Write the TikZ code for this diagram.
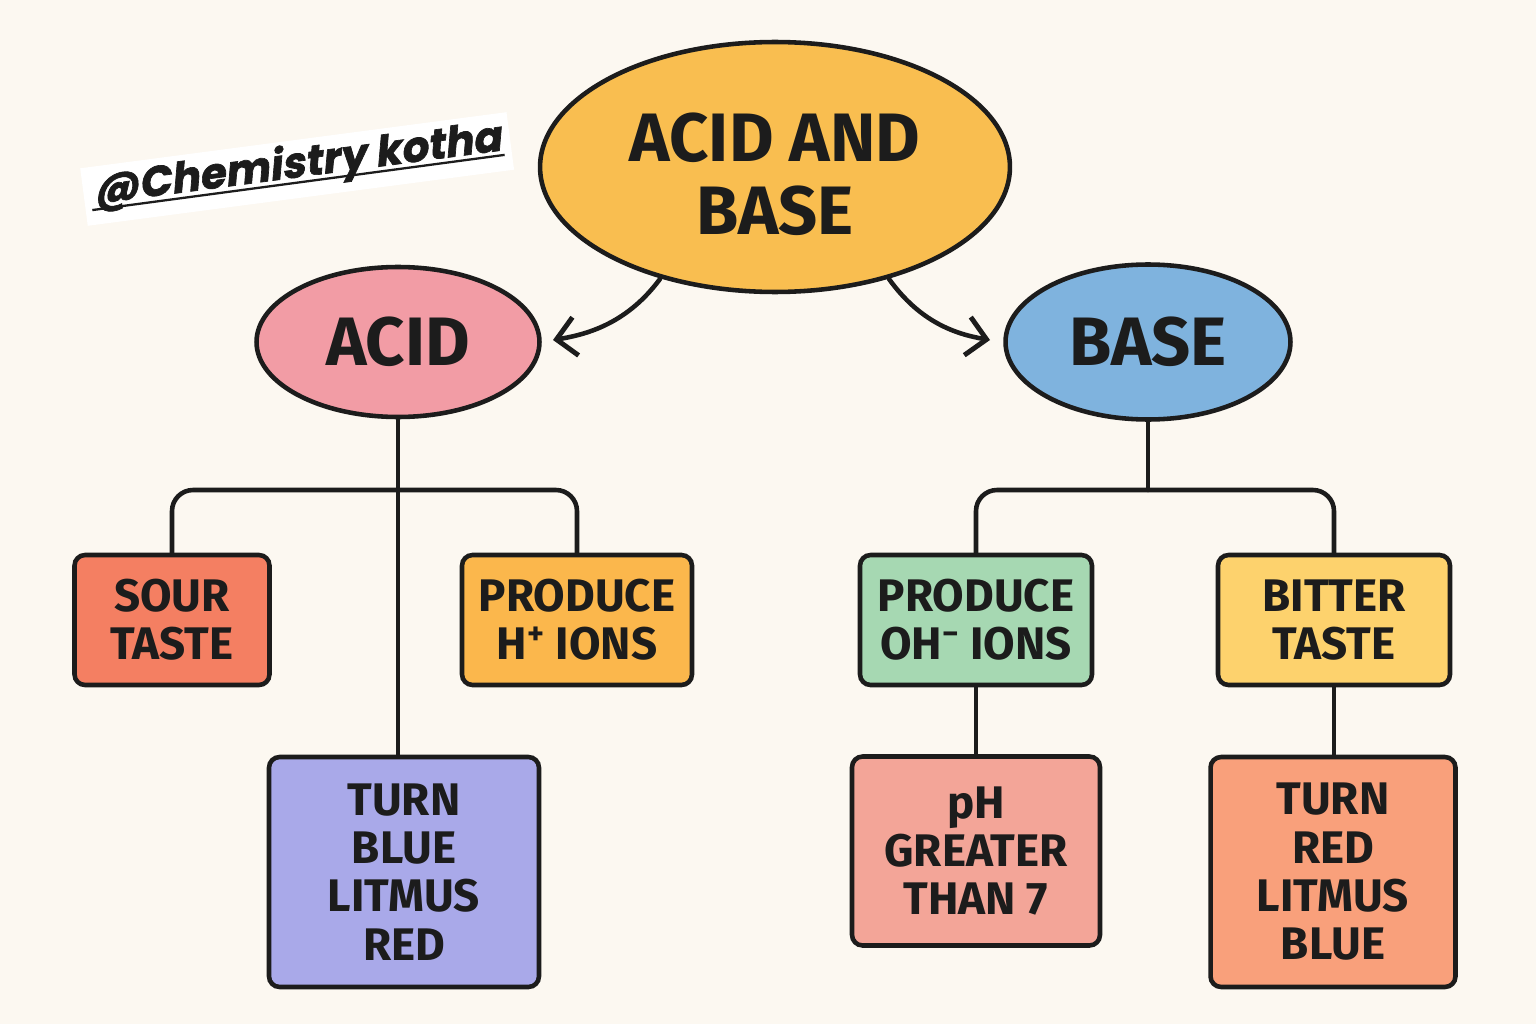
\documentclass[tikz,border=0pt]{standalone}
\usepackage{fontspec}
\setmainfont{Fira Sans}
\newfontfamily\markfont{Poppins}[BoldFeatures={FakeSlant=0.22, FakeBold=1.6}]
\usetikzlibrary{shapes.geometric,arrows.meta}
\definecolor{paper}{HTML}{FCF8F1}
\definecolor{ink}{HTML}{1C1C1C}
\definecolor{topfill}{HTML}{F9BE50}
\definecolor{acidfill}{HTML}{F29CA5}
\definecolor{basefill}{HTML}{7FB3DE}
\definecolor{sourfill}{HTML}{F47F62}
\definecolor{hionfill}{HTML}{FBB74C}
\definecolor{bluefill}{HTML}{A9A9E9}
\definecolor{ohfill}{HTML}{A6D8B2}
\definecolor{bitterfill}{HTML}{FDD26D}
\definecolor{phfill}{HTML}{F3A598}
\definecolor{redfill}{HTML}{F9A07B}

\begin{document}
\begin{tikzpicture}[x=0.02cm, y=-0.02cm,
  every node/.style={align=center, text=ink},
  bubble/.style={ellipse, draw=ink, line width=2.6pt, inner sep=0pt,
    font=\fontsize{39}{41.5}\selectfont\bfseries},
  card/.style={rectangle, rounded corners=6pt, draw=ink, line width=2.6pt, inner sep=0pt,
    font=\fontsize{26}{27.5}\selectfont\bfseries},
  link/.style={draw=ink, line width=2.6pt, line cap=round},
  swing/.style={link, -{Straight Barb[length=11pt, width=22pt, line width=2.8pt]}}]
\fill[paper] (0,0) rectangle (1536,1024);
\useasboundingbox (0,0) rectangle (1536,1024);

% watermark
\fill[white, rotate around={7.5:(297,168)}] (82,140) rectangle (512,198);
\node at (297,166) [rotate=7.5, font=\markfont\fontsize{24}{26}\selectfont\bfseries] (mark) {@Chemistry kotha};
\draw[ink, line width=1.3pt] ([xshift=2pt, yshift=-3pt]mark.base west) -- ([xshift=-2pt, yshift=-3pt]mark.base east);

% ellipses
\node at (775,167) [bubble, fill=topfill, minimum width=9.4cm, minimum height=5cm] (top) {\rule{0pt}{36pt}ACID AND\\BASE};
\node at (398,342) [bubble, fill=acidfill, minimum width=5.66cm, minimum height=3cm] (acid) {ACID};
\node at (1148,342) [bubble, fill=basefill, minimum width=5.7cm, minimum height=3.1cm] (base) {BASE};

% acid side
\node at (172,620) [card, fill=sourfill, minimum width=3.9cm, minimum height=2.6cm] (sour) {SOUR\\TASTE};
\node at (577,620) [card, fill=hionfill, minimum width=4.6cm, minimum height=2.6cm] (hion) {PRODUCE\\H\textsuperscript{+} IONS};
\node at (404,872) [card, fill=bluefill, minimum width=5.4cm, minimum height=4.6cm] (litblue) {TURN\\BLUE\\LITMUS\\RED};

% base side
\node at (976,620) [card, fill=ohfill, minimum width=4.64cm, minimum height=2.6cm] (ohion) {PRODUCE\\OH\textsuperscript{−} IONS};
\node at (1334,620) [card, fill=bitterfill, minimum width=4.64cm, minimum height=2.6cm] (bitter) {BITTER\\TASTE};
\node at (976,851) [card, fill=phfill, minimum width=4.96cm, minimum height=3.78cm] (ph) {pH\\GREATER\\THAN 7};
\node at (1333,872) [card, fill=redfill, minimum width=4.9cm, minimum height=4.6cm] (litred) {TURN\\RED\\LITMUS\\BLUE};

% connectors
\coordinate (abar) at (398,490);
\coordinate (bbar) at (1148,490);
\coordinate (tl) at (660,279);
\coordinate (tr) at (889,279);
\coordinate (ahead) at (553,340);
\coordinate (bhead) at (990,340);
\draw[swing] (tl) .. controls (628,322) and (590,334) .. (ahead);
\draw[swing] (tr) .. controls (920,322) and (955,334) .. (bhead);
\draw[link] (acid.south) -- (acid.south |- litblue.north);
\draw[link, rounded corners=12pt] (sour.north) |- (abar) -| (hion.north);
\draw[link] (base.south) -- (bbar);
\draw[link, rounded corners=12pt] (ohion.north) |- (bbar) -| (bitter.north);
\draw[link] (ohion.south) -- (ph.north);
\draw[link] (bitter.south) -- (bitter.south |- litred.north);
\end{tikzpicture}
\end{document}
